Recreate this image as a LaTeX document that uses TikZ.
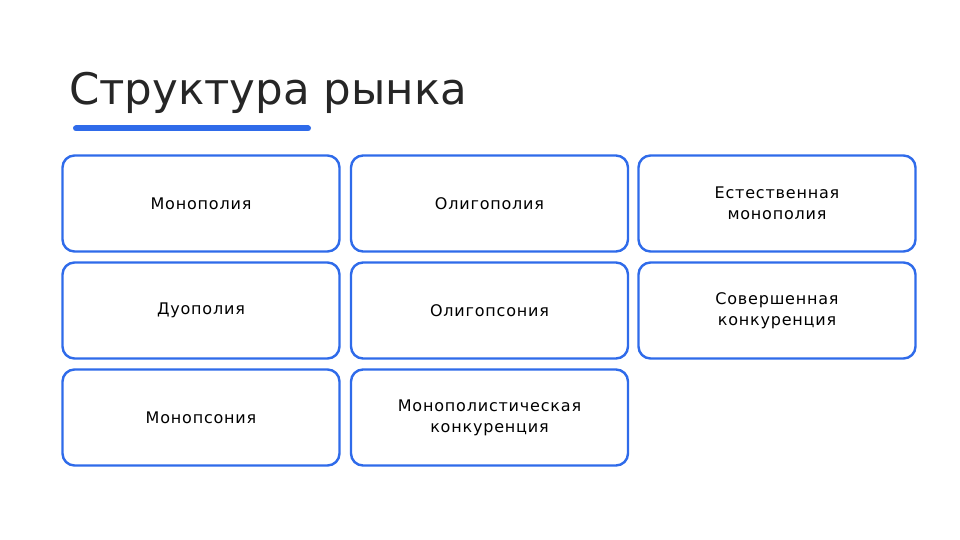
\documentclass[tikz,border=0pt]{standalone}
\usepackage{fontspec}
\setmainfont{DejaVu Sans}[LetterSpace=5]
\newfontfamily\titlefont{DejaVu Sans}[LetterSpace=0]
\definecolor{bl}{HTML}{2F6BEA}
\begin{document}
\begin{tikzpicture}[x=1pt,y=-1pt,
  box/.style={draw=bl,line width=2.4pt,rounded corners=12pt,fill=white,minimum width=277pt,minimum height=96pt,font=\fontsize{16}{21}\selectfont,align=center,inner sep=0pt}]
\useasboundingbox[fill=white] (0,0) rectangle (960,540);
\node[anchor=base west,inner sep=0pt,font=\titlefont\fontsize{43.5}{50}\selectfont,text=black!85] (t) at (69,105) {Структура рынка};
\draw[bl,line width=6pt,line cap=round] (76,128.5) coordinate (b1) -- (308,128.5) coordinate (b2);
\node[box] (a1) at (201,203.5) {Монополия};
\node[box] (a2) at (489.5,203.5) {Олигополия};
\node[box] (a3) at (777,203.5) {Естественная\\ монополия};
\node[box] (b1n) at (201,310.5) {Дуополия};
\node[box] (b2n) at (489.5,310.5) {Олигопсония};
\node[box] (b3n) at (777,310.5) {Совершенная\\ конкуренция};
\node[box] (c1) at (201,417.5) {Монопсония};
\node[box] (c2) at (489.5,417.5) {Монополистическая\\конкуренция};
\end{tikzpicture}
\end{document}
